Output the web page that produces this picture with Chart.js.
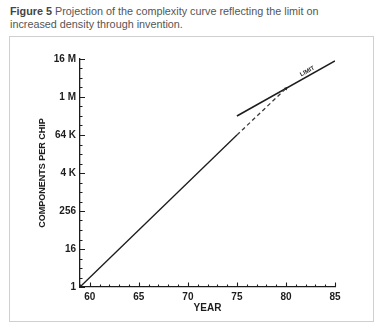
<!DOCTYPE html>
<html>
<head>
<meta charset="utf-8">
<script src="https://cdn.jsdelivr.net/npm/chart.js@4.4.1/dist/chart.umd.min.js"></script>
<style>
  html, body { margin: 0; padding: 0; background: #fff; }
  body { width: 385px; height: 336px; position: relative; overflow: hidden; }
  .caption {
    position: absolute; left: 10px; top: 5px;
    font-family: "Liberation Sans", Arial, sans-serif;
    font-size: 10.8px; line-height: 13px; color: #555;
  }
  .caption b { color: #444; }
  .frame {
    position: absolute; left: 9px; top: 36px;
    width: 363px; height: 284px;
    border: 1px solid #cfcfcf;
  }
  #chart { position: absolute; left: 0; top: 0; }
</style>
</head>
<body>
<div class="caption"><b>Figure 5</b> Projection of the complexity curve reflecting the limit on<br>increased density through invention.</div>
<div class="frame"><canvas id="chart" width="363" height="284"></canvas></div>
<script>
// ------------------------------------------------------------
// data
// ------------------------------------------------------------
const solidYears = [59, 75];
const solidCounts = [1, 65536];

const dashedYears = [75, 80];
const dashedCounts = [65536, 1950000];

const limitYears = [75, 85];
const limitCounts = [262144, 14680064];

const xTickValues = [60, 65, 70, 75, 80, 85];
const yTickValues = [1, 16, 256, 4096, 65536, 1048576, 16777216];
const yTickLabels = ['1', '16', '256', '4 K', '64 K', '1 M', '16 M'];

const INK = '#1c1c1c';
const tickFont = { family: '"Liberation Sans", Arial, sans-serif', size: 10, weight: 'bold' };

function toPoints(xs, ys) {
  return xs.map((x, i) => ({ x, y: ys[i] }));
}

// inward tick marks (major + minor) drawn on the library scales
const tickMarks = {
  id: 'tickMarks',
  afterDraw(chart) {
    const { ctx, scales: { x, y } } = chart;
    ctx.save();
    ctx.strokeStyle = INK;
    ctx.lineWidth = 1.1;
    ctx.beginPath();
    for (let yr = 59; yr <= 85; yr++) {
      const px = Math.round(x.getPixelForValue(yr)) + 0.5;
      const len = yr % 5 === 0 ? 4.5 : 2.5;
      ctx.moveTo(px, y.bottom);
      ctx.lineTo(px, y.bottom - len);
    }
    for (let k = 0; k <= 24; k++) {
      const py = Math.round(y.getPixelForValue(Math.pow(2, k))) + 0.5;
      const len = k % 4 === 0 ? 5 : 2.5;
      ctx.moveTo(x.left, py);
      ctx.lineTo(x.left + len, py);
    }
    ctx.stroke();

    // "LIMIT" label along the limit line
    const x0 = x.getPixelForValue(limitYears[0]), y0 = y.getPixelForValue(limitCounts[0]);
    const x1 = x.getPixelForValue(limitYears[1]), y1 = y.getPixelForValue(limitCounts[1]);
    const ang = Math.atan2(y1 - y0, x1 - x0);
    const t = 0.74;
    ctx.translate(x0 + (x1 - x0) * t, y0 + (y1 - y0) * t);
    ctx.rotate(ang);
    ctx.fillStyle = INK;
    ctx.font = 'bold 6px "Liberation Sans", Arial, sans-serif';
    ctx.textAlign = 'center';
    ctx.textBaseline = 'bottom';
    ctx.fillText('LIMIT', 0, -1.5);
    ctx.restore();
  }
};

new Chart(document.getElementById('chart'), {
  type: 'line',
  data: {
    datasets: [
      {
        data: toPoints(solidYears, solidCounts),
        borderColor: INK,
        borderWidth: 1.3,
        pointRadius: 0
      },
      {
        data: toPoints(dashedYears, dashedCounts),
        borderColor: '#3a3a3a',
        borderWidth: 1.3,
        borderDash: [4, 3],
        pointStyle: 'triangle',
        pointRotation: 45,
        pointRadius: [0, 2.2],
        pointBackgroundColor: INK,
        pointBorderWidth: 0
      },
      {
        data: toPoints(limitYears, limitCounts),
        borderColor: INK,
        borderWidth: 1.6,
        pointRadius: 0
      }
    ]
  },
  options: {
    responsive: false,
    animation: false,
    layout: { padding: { left: 0, right: 38, top: 22, bottom: 4 } },
    plugins: {
      legend: { display: false },
      tooltip: { enabled: false }
    },
    scales: {
      x: {
        type: 'linear',
        min: 59,
        max: 85,
        afterBuildTicks: (scale) => { scale.ticks = xTickValues.map(v => ({ value: v })); },
        afterFit: (scale) => { scale.height = 30; },
        grid: { display: false, drawTicks: false },
        border: { display: true, color: INK, width: 1.3 },
        ticks: { color: INK, font: tickFont, padding: 4, maxRotation: 0, autoSkip: false },
        title: {
          display: true,
          text: 'YEAR',
          color: INK,
          font: { family: '"Liberation Sans", Arial, sans-serif', size: 10, weight: 'bold' },
          padding: { top: 0, bottom: 3 }
        }
      },
      y: {
        type: 'logarithmic',
        min: 1,
        max: 16777216,
        afterBuildTicks: (scale) => { scale.ticks = yTickValues.map(v => ({ value: v })); },
        afterFit: (scale) => { scale.width = 70; },
        grid: { display: false, drawTicks: false },
        border: { display: true, color: INK, width: 1.3 },
        ticks: {
          color: INK,
          font: tickFont,
          padding: 4,
          autoSkip: false,
          callback: (value) => yTickLabels[yTickValues.indexOf(value)]
        },
        title: {
          display: true,
          text: 'COMPONENTS PER CHIP',
          color: INK,
          font: { family: '"Liberation Sans", Arial, sans-serif', size: 9, weight: 'bold' },
          padding: { top: 27, bottom: 0 }
        }
      }
    }
  },
  plugins: [tickMarks]
});
</script>
</body>
</html>
